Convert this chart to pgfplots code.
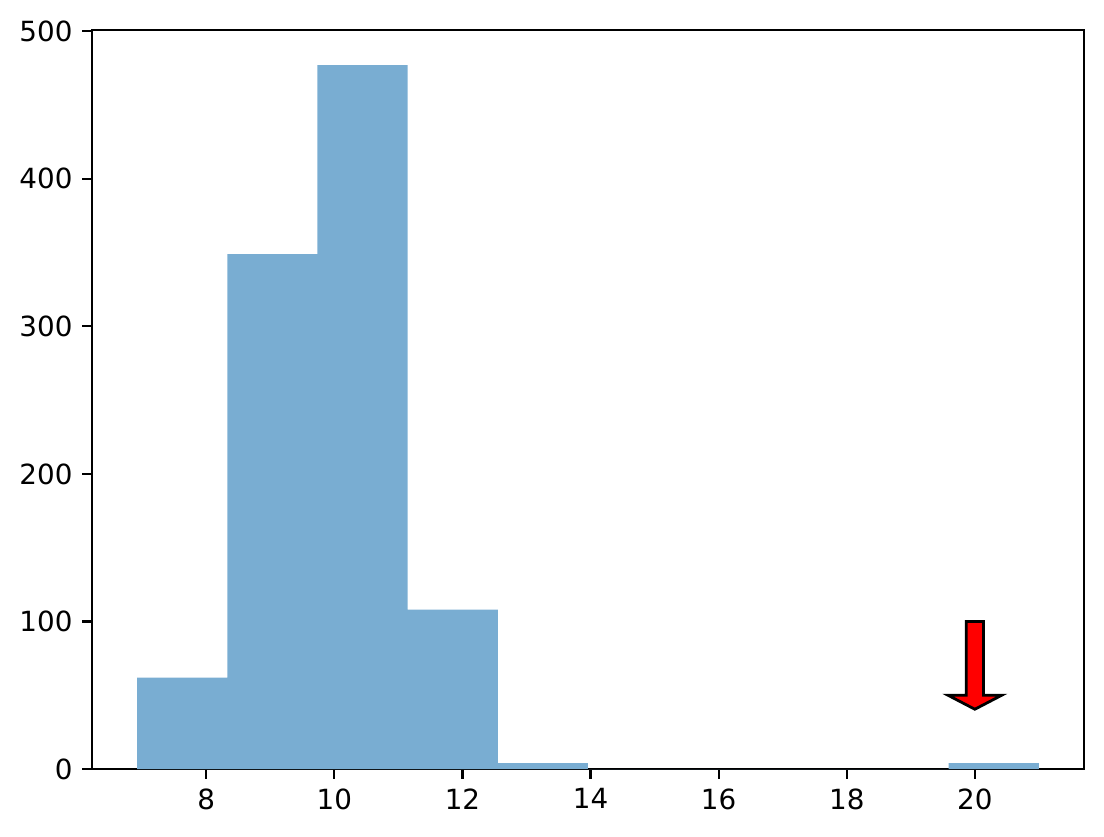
\documentclass[border=0pt]{standalone}
\usepackage{fontspec}
\setmainfont{DejaVu Sans}
\usepackage{pgfplots}
\pgfplotsset{compat=1.18}
\definecolor{histblue}{HTML}{79ADD2}
\begin{document}
\begin{tikzpicture}
\path[use as bounding box] (-33.12pt,-24.12pt) rectangle (364.32pt,276.84pt);
\begin{axis}[
  at={(0,0)}, anchor=south west,
  scale only axis,
  width=357.12pt, height=266.04pt,
  xmin=6.216, xmax=21.704,
  ymin=0, ymax=500.85,
  xtick={8,10,12,14,16,18,20},
  ytick={0,100,200,300,400,500},
  tick pos=left,
  tick align=outside,
  major tick length=3.5pt,
  tick style={line width=0.8pt, black},
  axis line style={line width=0.8pt},
  /pgf/number format/assume math mode=true,
  ticklabel style={font=\fontsize{10}{12}\selectfont},
  axis on top=false,
]
\addplot[fill=histblue, draw=none, const plot] coordinates {
  (6.920,62) (8.328,349) (9.736,477) (11.144,108) (12.552,4)
  (13.960,0) (15.368,0) (16.776,0) (18.184,0) (19.592,4) (21.000,4)
} \closedcycle;
\addplot[fill=red, draw=black, line width=1pt, line join=miter] coordinates {
  (19.866,100) (20.134,100) (20.134,50) (20.42,50) (20.0,40.5) (19.58,50) (19.866,50)
} -- cycle;
\end{axis}
\end{tikzpicture}
\end{document}
